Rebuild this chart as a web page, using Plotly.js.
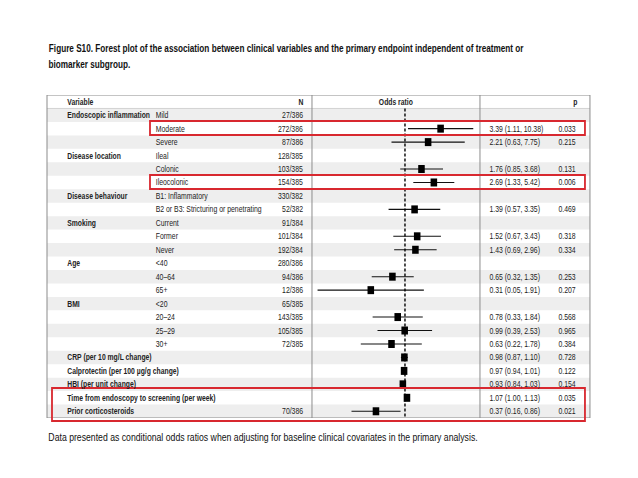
<!DOCTYPE html>
<html>
<head>
<meta charset="utf-8">
<script src="https://cdn.plot.ly/plotly-3.0.1.min.js"></script>
<style>
html,body{margin:0;padding:0;background:#fff;overflow:hidden;width:638px;height:478px;}
#wrap{width:638px;height:478px;overflow:hidden;}
#chart{width:778px;height:478px;transform:scaleX(0.82);transform-origin:0 0;}
</style>
</head>
<body>
<div id="wrap"><div id="chart"></div></div>
<script>
// ---- data ----
const groupLabels = ["Endoscopic inflammation","","","Disease location","","","Disease behaviour","","Smoking","","","Age","","","BMI","","","","CRP (per 10 mg/L change)","Calprotectin (per 100 µg/g change)","HBI (per unit change)","Time from endoscopy to screening (per week)","Prior corticosteroids"];
const levelLabels = ["Mild","Moderate","Severe","Ileal","Colonic","Ileocolonic","B1: Inflammatory","B2 or B3: Stricturing or penetrating","Current","Former","Never","<40","40\u201364","65+","<20","20\u201324","25\u201329","30+","","","","",""];
const nLabels = ["27/386","272/386","87/386","128/385","103/385","154/385","330/382","52/382","91/384","101/384","192/384","280/386","94/386","12/386","65/385","143/385","105/385","72/385","","","","","70/386"];
const oddsRatio = [null,3.39,2.21,null,1.76,2.69,null,1.39,null,1.52,1.43,null,0.65,0.31,null,0.78,0.99,0.63,0.98,0.97,0.93,1.07,0.37];
const ciLower   = [null,1.11,0.63,null,0.85,1.33,null,0.57,null,0.67,0.69,null,0.32,0.05,null,0.33,0.39,0.22,0.87,0.94,0.84,1.00,0.16];
const ciUpper   = [null,10.38,7.75,null,3.68,5.42,null,3.35,null,3.43,2.96,null,1.35,1.91,null,1.84,2.53,1.78,1.10,1.01,1.03,1.13,0.86];
const pValues   = [null,0.033,0.215,null,0.131,0.006,null,0.469,null,0.318,0.334,null,0.253,0.207,null,0.568,0.965,0.384,0.728,0.122,0.154,0.035,0.021];
const headers = ["Variable","N","Odds ratio","p"];
const titleLines = ["Figure S10. Forest plot of the association between clinical variables and the primary endpoint independent of treatment or","biomarker subgroup."];
const caption = "Data presented as conditional odds ratios when adjusting for baseline clinical covariates in the primary analysis.";

// ---- layout helpers (positions in final 638x478 picture pixels) ----
const SX = 0.82;            // horizontal compression applied to the whole figure
const W = 638, H = 478;
const PW = Math.round(W / SX);
const px = v => v / W;
const py = v => 1 - v / H;
const FONT = "'Liberation Sans',Arial,sans-serif";
const nRows = groupLabels.length;
const rows = groupLabels.map((_, i) => i + 1);

const TL = 47, TR = 590, DIV1 = 312, DIV2 = 480;
const xGroup = 66, xLevel = 154, xN = 305, xOR = 488, xP = 577;

const shapes = [];
const annotations = [];

for (let i = 1; i <= nRows; i += 2) {
  shapes.push({type:'rect', xref:'paper', yref:'y', x0:px(TL), x1:px(TR), y0:i-0.5, y1:i+0.5,
    fillcolor:'#eeeeee', line:{width:0}, layer:'below'});
}
shapes.push({type:'line', xref:'paper', yref:'y', x0:px(TL), x1:px(TR), y0:0.5, y1:0.5, line:{color:'#d0d0d0', width:1}, layer:'below'});
[DIV1, DIV2].forEach(xv => shapes.push({type:'line', xref:'paper', yref:'y', x0:px(xv), x1:px(xv), y0:-0.5, y1:nRows+0.5, line:{color:'#8a8a8a', width:1.2}}));
shapes.push({type:'rect', xref:'paper', yref:'y', x0:px(TL), x1:px(TR), y0:-0.5, y1:nRows+0.5, line:{color:'#8a8a8a', width:1.2}, fillcolor:'rgba(0,0,0,0)'});
shapes.push({type:'line', xref:'x', yref:'y', x0:1, x1:1, y0:0.5, y1:nRows+0.5, line:{color:'#000', width:1.7, dash:'3px,2px'}});
const red = '#d8282f';
shapes.push({type:'rect', xref:'paper', yref:'paper', x0:px(150), x1:px(585), y0:py(135), y1:py(121), line:{color:red, width:2.2}});
shapes.push({type:'rect', xref:'paper', yref:'paper', x0:px(150), x1:px(585), y0:py(189), y1:py(175), line:{color:red, width:2.2}});
shapes.push({type:'rect', xref:'paper', yref:'paper', x0:px(52), x1:px(585), y0:py(421), y1:py(388), line:{color:red, width:2.2}});

const FS = 8.4, FSB = 8.3;
const tf = (s) => ({family: FONT, size: s || FS, color: '#222'});
const esc = s => s.replace(/</g,'&lt;');

annotations.push({xref:'paper', yref:'y', x:px(xGroup), y:0, text:'<b>'+headers[0]+'</b>', xanchor:'left', yanchor:'middle', showarrow:false, font:tf(FSB)});
annotations.push({xref:'paper', yref:'y', x:px(xN), y:0, text:'<b>'+headers[1]+'</b>', xanchor:'right', yanchor:'middle', showarrow:false, font:tf(FSB)});
annotations.push({xref:'paper', yref:'y', x:px((DIV1+DIV2)/2), y:0, text:'<b>'+headers[2]+'</b>', xanchor:'center', yanchor:'middle', showarrow:false, font:tf(FSB)});
annotations.push({xref:'paper', yref:'y', x:px(xP+2), y:0, text:'<b>'+headers[3]+'</b>', xanchor:'right', yanchor:'middle', showarrow:false, font:tf(FSB)});

const orText = oddsRatio.map((v, i) => v == null ? '' :
  v.toFixed(2) + ' (' + ciLower[i].toFixed(2) + ', ' + ciUpper[i].toFixed(2) + ')');

rows.forEach((r, i) => {
  if (groupLabels[i]) annotations.push({xref:'paper', yref:'y', x:px(xGroup), y:r, text:'<b>'+esc(groupLabels[i])+'</b>', xanchor:'left', yanchor:'middle', showarrow:false, font:tf(FSB)});
  if (levelLabels[i]) annotations.push({xref:'paper', yref:'y', x:px(xLevel), y:r, text:esc(levelLabels[i]), xanchor:'left', yanchor:'middle', showarrow:false, font:tf()});
  if (nLabels[i]) annotations.push({xref:'paper', yref:'y', x:px(xN), y:r, text:nLabels[i], xanchor:'right', yanchor:'middle', showarrow:false, font:tf()});
  if (orText[i]) annotations.push({xref:'paper', yref:'y', x:px(xOR), y:r, text:orText[i], xanchor:'left', yanchor:'middle', showarrow:false, font:tf()});
  if (pValues[i] != null) annotations.push({xref:'paper', yref:'y', x:px(xP), y:r, text:pValues[i].toFixed(3), xanchor:'right', yanchor:'middle', showarrow:false, font:tf()});
});

annotations.push({xref:'paper', yref:'paper', x:px(47), y:py(48.5), xanchor:'left', yanchor:'middle', showarrow:false,
  text:'<b>'+titleLines[0]+'</b>', font:{family:FONT, size:10, color:'#111'}});
annotations.push({xref:'paper', yref:'paper', x:px(47), y:py(64.5), xanchor:'left', yanchor:'middle', showarrow:false,
  text:'<b>'+titleLines[1]+'</b>', font:{family:FONT, size:10, color:'#111'}});
annotations.push({xref:'paper', yref:'paper', x:px(47), y:py(437), xanchor:'left', yanchor:'middle', showarrow:false,
  text:caption, font:{family:FONT, size:10.6, color:'#111'}});

const trace = {
  type:'scatter', mode:'markers',
  x: oddsRatio, y: rows,
  marker:{symbol:'square', size:8, color:'#000'},
  error_x:{type:'data', symmetric:false,
    array: oddsRatio.map((v,i) => v == null ? null : ciUpper[i] - v),
    arrayminus: oddsRatio.map((v,i) => v == null ? null : v - ciLower[i]),
    color:'#111', thickness:1.1, width:0},
  hoverinfo:'skip', showlegend:false
};

const layout = {
  width:PW, height:H, margin:{l:0,r:0,t:0,b:0},
  paper_bgcolor:'#fff', plot_bgcolor:'rgba(0,0,0,0)',
  xaxis:{type:'log', domain:[px(DIV1), px(DIV2)], range:[-1.384, 1.116], showgrid:false, zeroline:false, showticklabels:false, ticks:'', showline:false, fixedrange:true},
  yaxis:{range:[nRows+0.5, -0.5], domain:[py(418), py(95)], showgrid:false, zeroline:false, showticklabels:false, ticks:'', showline:false, fixedrange:true},
  shapes, annotations, showlegend:false
};

Plotly.newPlot('chart', [trace], layout, {displayModeBar:false, staticPlot:true});
</script>
</body>
</html>
